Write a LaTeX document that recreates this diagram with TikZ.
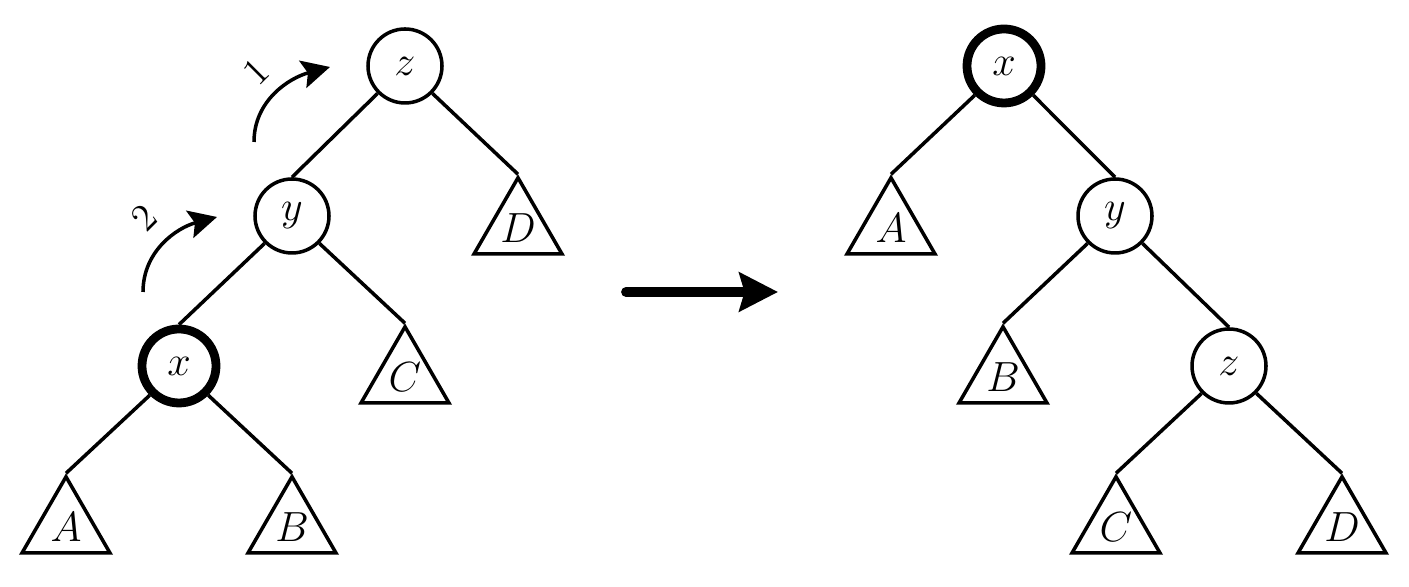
\documentclass[tikz,border=0pt]{standalone}
\usetikzlibrary{shapes.geometric,arrows.meta}

\tikzset{
  knot/.style={draw,circle,line width=1pt,minimum size=0.74cm,inner sep=0pt,
    font=\fontsize{12}{14}\selectfont},
  hot/.style={knot,line width=2.5pt},
  sub/.style={draw,regular polygon,regular polygon sides=3,minimum size=1.016cm,
    inner sep=0pt,line width=1pt,font=\fontsize{12}{14}\selectfont},
  edge/.style={line width=1pt},
  turn/.style={line width=1pt,-{Stealth[length=8pt,width=8pt,inset=1.5pt]}},
  num/.style={rotate=45,inner sep=0pt,font=\fontsize{11}{13}\selectfont}
}

\begin{document}
\begin{tikzpicture}
    \useasboundingbox (0,0) rectangle (14.09,5.87);

    % before the rotation
    \node[knot] (z1) at (4.05,5.21) {$z$};
    \node[knot] (y1) at (2.92,3.71) {$y$};
    \node[hot]  (x1) at (1.79,2.21) {$x$};
    \node[sub]  (A1) at (0.66,0.594) {$A$};
    \node[sub]  (B1) at (2.92,0.594) {$B$};
    \node[sub]  (C1) at (4.05,2.094) {$C$};
    \node[sub]  (D1) at (5.18,3.584) {$D$};

    \draw[edge] (z1.225) -- (y1.north);
    \draw[edge] (z1.315) -- (D1.corner 1);
    \draw[edge] (y1.225) -- (x1.north);
    \draw[edge] (y1.315) -- (C1.corner 1);
    \draw[edge] (x1.225) -- (A1.corner 1);
    \draw[edge] (x1.315) -- (B1.corner 1);

    % the two turns
    \coordinate (s1) at (2.54,4.45);
    \coordinate (e1) at (3.30,5.20);
    \coordinate (s2) at (1.43,2.95);
    \coordinate (e2) at (2.17,3.70);
    \draw[turn] (s1) to[out=90,in=195] (e1);
    \draw[turn] (s2) to[out=90,in=195] (e2);
    \node[num] (one) at (2.56,5.15) {1};
    \node[num] (two) at (1.44,3.69) {2};

    % middle arrow
    \coordinate (l) at (6.26,2.95);
    \coordinate (r) at (7.78,2.95);
    \draw[line width=2.8pt,line cap=round,-{Stealth[length=11pt,width=11pt,inset=1.5pt]}] (l) -- (r);

    % after the rotation
    \node[hot]  (x2) at (10.04,5.21) {$x$};
    \node[knot] (y2) at (11.15,3.71) {$y$};
    \node[knot] (z2) at (12.29,2.21) {$z$};
    \node[sub]  (A2) at (8.91,3.584) {$A$};
    \node[sub]  (B2) at (10.03,2.094) {$B$};
    \node[sub]  (C2) at (11.16,0.594) {$C$};
    \node[sub]  (D2) at (13.42,0.594) {$D$};

    \draw[edge] (x2.225) -- (A2.corner 1);
    \draw[edge] (x2.315) -- (y2.north);
    \draw[edge] (y2.225) -- (B2.corner 1);
    \draw[edge] (y2.315) -- (z2.north);
    \draw[edge] (z2.225) -- (C2.corner 1);
    \draw[edge] (z2.315) -- (D2.corner 1);

\end{tikzpicture}
\end{document}
